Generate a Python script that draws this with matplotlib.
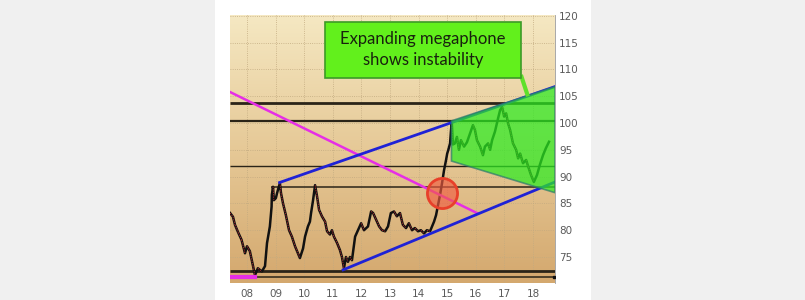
import numpy as np
import matplotlib
matplotlib.use("Agg")
import matplotlib.pyplot as plt
from matplotlib.patches import Rectangle, Polygon
from matplotlib.colors import LinearSegmentedColormap

# price series (decimal year, level)
price_x = [2007.41, 2007.51, 2007.58, 2007.69, 2007.81, 2007.93, 2008.00, 2008.10,
           2008.21, 2008.28, 2008.38, 2008.52, 2008.63, 2008.70, 2008.80, 2008.86,
           2008.87, 2008.91, 2008.94, 2009.01, 2009.05, 2009.15, 2009.19, 2009.26,
           2009.36, 2009.47, 2009.57, 2009.68, 2009.78, 2009.85, 2009.96, 2010.03,
           2010.13, 2010.20, 2010.24, 2010.31, 2010.38, 2010.45, 2010.52, 2010.62,
           2010.73, 2010.80, 2010.90, 2010.97, 2011.04, 2011.15, 2011.25, 2011.32,
           2011.39, 2011.46, 2011.53, 2011.60, 2011.67, 2011.78, 2011.88, 2011.99,
           2012.09, 2012.23, 2012.34, 2012.41, 2012.51, 2012.62, 2012.72, 2012.83,
           2012.93, 2013.03, 2013.14, 2013.24, 2013.35, 2013.45, 2013.56, 2013.66,
           2013.77, 2013.87, 2013.98, 2014.08, 2014.19, 2014.29, 2014.40, 2014.54,
           2014.61, 2014.68, 2014.75, 2014.82, 2014.89, 2014.96, 2015.00, 2015.04,
           2015.10, 2015.13, 2015.16, 2015.20, 2015.27, 2015.34, 2015.41, 2015.48,
           2015.59, 2015.69, 2015.80, 2015.90, 2015.97, 2016.04, 2016.15, 2016.25,
           2016.32, 2016.43, 2016.50, 2016.57, 2016.67, 2016.78, 2016.85, 2016.92,
           2016.99, 2017.06, 2017.13, 2017.20, 2017.30, 2017.41, 2017.48, 2017.55,
           2017.65, 2017.76, 2017.83, 2017.93, 2018.03, 2018.14, 2018.24, 2018.35,
           2018.45, 2018.56]
price_y = [83.2, 82.5, 81.0, 79.6, 78.2, 75.7, 77.0, 76.1,
           73.3, 71.6, 72.9, 72.3, 73.3, 77.6, 80.7, 84.4,
           86.6, 88.1, 85.6, 86.0, 86.9, 88.8, 86.9, 85.0,
           82.8, 80.0, 78.8, 77.0, 75.7, 74.8, 76.6, 78.8,
           80.7, 81.6, 83.2, 85.6, 88.4, 86.3, 83.8, 82.6,
           81.6, 79.8, 79.2, 80.0, 78.8, 77.6, 76.3, 75.0,
           72.9, 75.0, 74.1, 75.0, 74.4, 78.8, 80.0, 81.3,
           80.0, 80.7, 83.5, 83.2, 82.0, 80.7, 80.0, 79.8,
           80.7, 83.2, 83.5, 82.6, 83.2, 81.0, 80.4, 81.3,
           80.0, 80.4, 79.8, 80.0, 79.4, 80.0, 79.8, 81.6,
           82.8, 84.7, 86.6, 88.8, 91.2, 93.1, 94.3, 95.0,
           96.2, 98.4, 100.2, 96.0, 96.2, 97.4, 95.0, 96.8,
           95.6, 96.4, 98.1, 99.6, 98.7, 96.8, 95.6, 94.0,
           95.6, 96.2, 95.0, 96.8, 98.4, 100.9, 102.4, 103.0,
           101.2, 101.8, 99.9, 98.7, 96.2, 95.0, 93.4, 94.3,
           92.5, 93.1, 91.9, 90.3, 89.0, 90.3, 92.2, 94.0,
           95.3, 96.5]

year_ticks = [2008, 2009, 2010, 2011, 2012, 2013, 2014, 2015, 2016, 2017, 2018]
year_labels = ["08", "09", "10", "11", "12", "13", "14", "15", "16", "17", "18"]
level_ticks = [75, 80, 85, 90, 95, 100, 105, 110, 115, 120]

# horizontal support / resistance levels: (start year, level, width)
levels = [(2007.4, 103.8, 2.0), (2007.4, 100.4, 1.6), (2007.4, 92.0, 1.0),
          (2008.85, 88.0, 1.1), (2007.4, 72.4, 2.0), (2007.4, 71.3, 1.1)]

# trend lines
magenta_x = [2007.40, 2016.04]
magenta_y = [105.8, 83.2]
magenta_low_x = [2007.40, 2008.28]
magenta_low_y = [71.3, 71.3]
upper_x = [2009.14, 2018.77]
upper_y = [88.9, 106.8]
lower_x = [2011.36, 2018.77]
lower_y = [72.6, 89.0]

# megaphone zone
zone_x = [2015.15, 2018.77, 2018.77, 2015.15]
zone_y = [100.4, 106.8, 87.0, 92.9]

breakout = (2014.81, 87.0)
note = "Expanding megaphone\nshows instability"

fig = plt.figure(figsize=(8.05, 3.0), dpi=100, facecolor="#f0f0f0")
panel = fig.add_axes([215 / 805, 0, 376 / 805, 1], zorder=-5)
panel.set_facecolor("white")
panel.set_axis_off()
panel.add_patch(Rectangle((0, 0), 1, 1, transform=panel.transAxes,
                          facecolor="white", edgecolor="none"))

ax = fig.add_axes([230 / 805, 17 / 300, 325 / 805, 268 / 300])
ax.set_xlim(2007.406, 2018.769)
ax.set_ylim(70.15, 120.15)

# tan gradient background
cmap = LinearSegmentedColormap.from_list("tan", ["#d4a86e", "#e6c997", "#f5e8c2"])
grad = np.linspace(0, 1, 256).reshape(-1, 1)
ax.imshow(grad, extent=[0, 1, 0, 1], transform=ax.transAxes, origin="lower",
          aspect="auto", cmap=cmap, zorder=0)

for x in year_ticks:
    ax.axvline(x, color="#c2aa80", lw=0.6, ls=":", zorder=1)
for y in level_ticks:
    ax.axhline(y, color="#c2aa80", lw=0.6, ls=":", zorder=1)

for x0, y, w in levels:
    ax.plot([x0, 2018.77], [y, y], color="#2b2418", lw=w, zorder=3, solid_capstyle="butt")
ax.plot([2018.72], [71.3], "s", color="#111111", ms=2, zorder=3)

# price: black base with red on falling stretches
ax.plot(price_x, price_y, color="#111111", lw=1.8, zorder=4)
for i in range(len(price_y) - 1):
    if price_y[i + 1] < price_y[i]:
        ax.plot(price_x[i:i + 2], price_y[i:i + 2], color="#cf3035", lw=0.5,
                dashes=(2, 1.5), zorder=5)

ax.plot(magenta_x, magenta_y, color="#e62ee6", lw=1.8, zorder=6)
ax.plot(magenta_low_x, magenta_low_y, color="#e62ee6", lw=3, zorder=6)
ax.plot(upper_x, upper_y, color="#1f22d6", lw=2, zorder=6)
ax.plot(lower_x, lower_y, color="#1f22d6", lw=2, zorder=6)

ax.add_patch(Polygon(list(zip(zone_x, zone_y)), closed=True, facecolor="#2cec22",
                     alpha=0.72, edgecolor="#2c7c6c", lw=1.2, zorder=7))

ax.scatter([breakout[0]], [breakout[1]], s=470, facecolor=(0.94, 0.36, 0.26, 0.65),
           edgecolor="#e8402a", lw=2, zorder=8)

# callout
ax.plot([2017.60, 2017.80], [108.6, 105.35], color="#5fe02a", lw=3, zorder=8)
ax.add_patch(Rectangle((2010.73, 108.45), 6.85, 10.45, facecolor="#62f01c",
                       edgecolor="#3c9a28", lw=1.2, zorder=9))
ax.text(2014.15, 113.7, note, ha="center", va="center", fontsize=12,
        family="Lato", color="#18220e", linespacing=1.35, zorder=10)

ax.set_xticks(year_ticks)
ax.set_xticklabels(year_labels)
ax.set_yticks(level_ticks)
ax.yaxis.tick_right()
ax.tick_params(axis="both", length=0, labelsize=7.5, colors="#5a5a5a", pad=4)
ax.tick_params(axis="y", pad=3)
for side in ["top", "left", "bottom"]:
    ax.spines[side].set_visible(False)
ax.spines["right"].set_color("#9a9a9a")
ax.spines["right"].set_linewidth(0.6)

fig.savefig("out.png", dpi=100, facecolor=fig.get_facecolor())
